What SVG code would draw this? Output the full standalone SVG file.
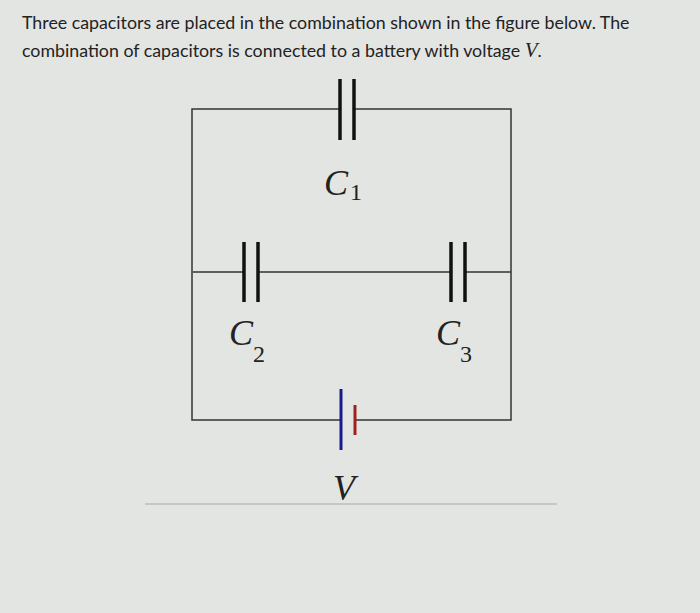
<svg xmlns="http://www.w3.org/2000/svg" width="700" height="613" viewBox="0 0 700 613">
<style>
.w{stroke:#333;stroke-width:1.5;fill:none}
.p{stroke:#111;stroke-width:3.5}
.t{font-family:Lato,"Open Sans",sans-serif;font-size:17.8px;fill:#222}
.l{font-family:"Liberation Serif",serif;font-style:italic;font-size:36px;fill:#222}
.s{font-family:"Liberation Serif",serif;font-size:24px;fill:#222}
</style>
<rect width="700" height="613" fill="#e3e5e2"/>
<text class="t" x="22" y="29">Three capacitors are placed in the combination shown in the figure below. The</text>
<text class="t" x="22" y="57">combination of capacitors is connected to a battery with voltage <tspan font-family="Liberation Serif" font-style="italic" font-size="21">V</tspan>.</text>
<g id="connectors">
<path class="w" d="M340 109H192V420H341M354 109H511V420H355"/>
<path class="w" d="M193 272H244M258 272H451M465 272H511"/>
</g>
<g id="C1"><line class="p" x1="340" y1="79" x2="340" y2="140"/><line class="p" x1="354" y1="79" x2="354" y2="140"/>
<text class="l" x="324" y="195">C</text><text class="s" x="350" y="200">1</text></g>
<g id="C2"><line class="p" x1="244" y1="242" x2="244" y2="302"/><line class="p" x1="258" y1="242" x2="258" y2="302"/>
<text class="l" x="229" y="345">C</text><text class="s" x="253" y="362">2</text></g>
<g id="C3"><line class="p" x1="451" y1="242" x2="451" y2="302"/><line class="p" x1="465" y1="242" x2="465" y2="302"/>
<text class="l" x="436" y="345">C</text><text class="s" x="460" y="362">3</text></g>
<g id="V"><line x1="341" y1="389" x2="341" y2="450" stroke="#1a1a8a" stroke-width="3"/><line x1="355" y1="405" x2="355" y2="435" stroke="#a02020" stroke-width="3"/>
<text class="l" x="333" y="500" font-size="30">V</text></g>
<line x1="145" y1="504" x2="557" y2="504" stroke="#aaa" stroke-width="1"/>
</svg>
